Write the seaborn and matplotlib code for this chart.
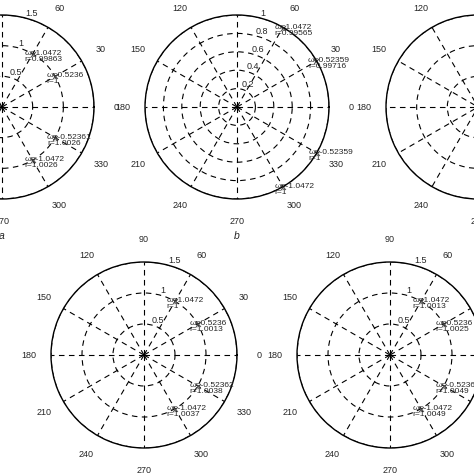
import numpy as np
import pandas as pd
import matplotlib
matplotlib.use("Agg")
import matplotlib.pyplot as plt
import seaborn as sns

sns.set_theme(style="white")
plt.rcParams['font.family'] = ['Liberation Sans', 'DejaVu Sans']

omega_a = [1.0472, 0.5236, -0.52361, -1.0472]
r_a = [0.99863, 1.0, 1.0026, 1.0026]
lab_a = ["1.0472", "0.5236", "-0.52361", "-1.0472"]
rlab_a = ["0.99863", "1", "1.0026", "1.0026"]

omega_b = [1.0472, 0.52359, -0.52359, -1.0472]
r_b = [0.99565, 0.99716, 1.0, 1.0]
lab_b = ["1.0472", "0.52359", "-0.52359", "-1.0472"]
rlab_b = ["0.99565", "0.99716", "1", "1"]

omega_d = [1.0472, 0.5236, -0.52362, -1.0472]
r_d = [1.0, 1.0013, 1.0038, 1.0037]
lab_d = ["1.0472", "0.5236", "-0.52362", "-1.0472"]
rlab_d = ["1", "1.0013", "1.0038", "1.0037"]

omega_e = [1.0472, 0.5236, -0.5236, -1.0472]
r_e = [1.0013, 1.0025, 1.0049, 1.0049]
lab_e = ["1.0472", "0.5236", "-0.5236", "-1.0472"]
rlab_e = ["1.0013", "1.0025", "1.0049", "1.0049"]

W = 474
fig = plt.figure(figsize=(4.74, 4.74), dpi=100)

def make(cx, cy, R, rmax, rticks, om, rr, lab, rlab, letter):
    ax = fig.add_axes([(cx - R) / W, (W - cy - R) / W, 2 * R / W, 2 * R / W], projection='polar')
    ax.set_facecolor('white')
    ax.set_ylim(0, rmax)
    ax.set_yticks(rticks)
    ax.set_yticklabels([f"{t:g}" for t in rticks], fontsize=6.5)
    ax.set_rlabel_position(75)
    ax.set_xticks(np.deg2rad(np.arange(0, 360, 30)))
    ax.set_xticklabels([str(d) for d in range(0, 360, 30)], fontsize=6.5)
    ax.tick_params(axis='x', pad=3)
    ax.grid(True, color='black', linestyle=(0, (5, 4)), linewidth=0.8)
    ax.spines['polar'].set_color('black')
    ax.spines['polar'].set_linewidth(1.0)
    if om:
        df = pd.DataFrame({"omega": om, "r": rr})
        sns.scatterplot(data=df, x="omega", y="r", ax=ax, marker='x', color='#555555',
                        s=12, linewidth=0.8, legend=False, clip_on=False)
        for o, r, l, rl in zip(om, rr, lab, rlab):
            ax.annotate(f"ω={l}\nr={rl}", (o, r), xytext=(-6, 3), textcoords='offset points',
                        ha='left', va='top', fontsize=6, linespacing=0.85,
                        annotation_clip=False)
    ax.set_xlabel(""); ax.set_ylabel("")
    if letter:
        ax.text(0.5, -0.2, letter, transform=ax.transAxes, ha='center', va='center',
                fontsize=7.5, style='italic')
    return ax

make(2, 107, 92, 1.5, [0.5, 1, 1.5], omega_a, r_a, lab_a, rlab_a, "a")
make(237, 107, 92, 1.0, [0.2, 0.4, 0.6, 0.8, 1.0], omega_b, r_b, lab_b, rlab_b, "b")
make(478, 107, 92, 1.5, [0.5, 1, 1.5], None, None, None, None, "c")
make(144, 355, 93, 1.5, [0.5, 1, 1.5], omega_d, r_d, lab_d, rlab_d, "d")
make(390, 355, 93, 1.5, [0.5, 1, 1.5], omega_e, r_e, lab_e, rlab_e, "e")

fig.savefig("out.png", dpi=100, facecolor='white')
